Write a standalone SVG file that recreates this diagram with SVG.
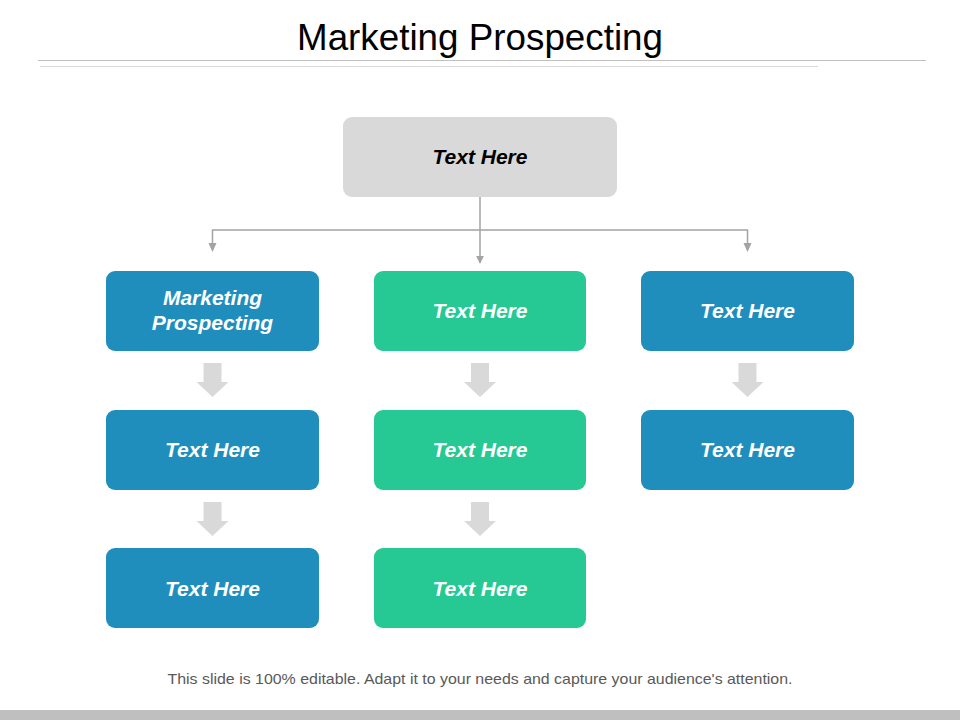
<svg xmlns="http://www.w3.org/2000/svg" width="960" height="720" viewBox="0 0 960 720">
<defs>
<style>
.title{font-family:"Liberation Sans",Arial,sans-serif;font-size:36px;fill:#000}
.lbl{font-family:"Liberation Sans",Arial,sans-serif;font-size:21px;font-weight:bold;font-style:italic;fill:#fff;text-anchor:middle}
.dark{fill:#000}
.blue{fill:#1f8ebd}
.green{fill:#26c993}
.gray{fill:#d9d9d9}
.conn{stroke:#a3a3a3;stroke-width:1.5;fill:none}
.blk{fill:#d9d9d9}
.foot{font-family:"Liberation Sans",Arial,sans-serif;font-size:15px;fill:#595959;text-anchor:middle}
</style>
<marker id="ah" viewBox="0 0 10 10" refX="9" refY="5" markerWidth="8" markerHeight="8" markerUnits="userSpaceOnUse" orient="auto">
<path d="M0,0 L10,5 L0,10 z" fill="#a3a3a3"/>
</marker>
</defs>
<rect width="960" height="720" fill="#fff"/>
<text class="title" x="480" y="50" text-anchor="middle" textLength="366" lengthAdjust="spacingAndGlyphs">Marketing Prospecting</text>
<line x1="38" y1="60.5" x2="926" y2="60.5" stroke="#c0c0c0" stroke-width="1"/>
<line x1="40" y1="66.5" x2="818" y2="66.5" stroke="#d9d9d9" stroke-width="1"/>

<g id="connectors">
<path class="conn" d="M480,197 V263" marker-end="url(#ah)"/>
<path class="conn" d="M212.5,250 V230 H747.5 V250"/>
<path d="M208.5,243 L216.5,243 L212.5,252 z" fill="#a3a3a3"/>
<path d="M743.5,243 L751.5,243 L747.5,252 z" fill="#a3a3a3"/>
<path class="blk" d="M203.5,363 h18 v19 h7 l-16,15 l-16,-15 h7 z"/>
<path class="blk" d="M203.5,502 h18 v19 h7 l-16,15 l-16,-15 h7 z"/>
<path class="blk" d="M471,363 h18 v19 h7 l-16,15 l-16,-15 h7 z"/>
<path class="blk" d="M471,502 h18 v19 h7 l-16,15 l-16,-15 h7 z"/>
<path class="blk" d="M738.5,363 h18 v19 h7 l-16,15 l-16,-15 h7 z"/>
</g>

<g id="top">
<rect class="gray" x="343" y="117" width="274" height="80" rx="9"/>
<text class="lbl dark" x="480" y="164">Text Here</text>
</g>

<g id="n11">
<rect class="blue" x="106" y="271" width="213" height="80" rx="9"/>
<text class="lbl" x="212.5" y="305">Marketing</text>
<text class="lbl" x="212.5" y="330">Prospecting</text>
</g>
<g id="n12">
<rect class="green" x="374" y="271" width="212" height="80" rx="9"/>
<text class="lbl" x="480" y="318">Text Here</text>
</g>
<g id="n13">
<rect class="blue" x="641" y="271" width="213" height="80" rx="9"/>
<text class="lbl" x="747.5" y="318">Text Here</text>
</g>

<g id="n21">
<rect class="blue" x="106" y="410" width="213" height="80" rx="9"/>
<text class="lbl" x="212.5" y="457">Text Here</text>
</g>
<g id="n22">
<rect class="green" x="374" y="410" width="212" height="80" rx="9"/>
<text class="lbl" x="480" y="457">Text Here</text>
</g>
<g id="n23">
<rect class="blue" x="641" y="410" width="213" height="80" rx="9"/>
<text class="lbl" x="747.5" y="457">Text Here</text>
</g>

<g id="n31">
<rect class="blue" x="106" y="548" width="213" height="80" rx="9"/>
<text class="lbl" x="212.5" y="596">Text Here</text>
</g>
<g id="n32">
<rect class="green" x="374" y="548" width="212" height="80" rx="9"/>
<text class="lbl" x="480" y="596">Text Here</text>
</g>

<text class="foot" x="480" y="684" textLength="625" lengthAdjust="spacingAndGlyphs">This slide is 100% editable. Adapt it to your needs and capture your audience's attention.</text>
<rect x="0" y="710" width="960" height="10" fill="#bfbfbf"/>
</svg>
